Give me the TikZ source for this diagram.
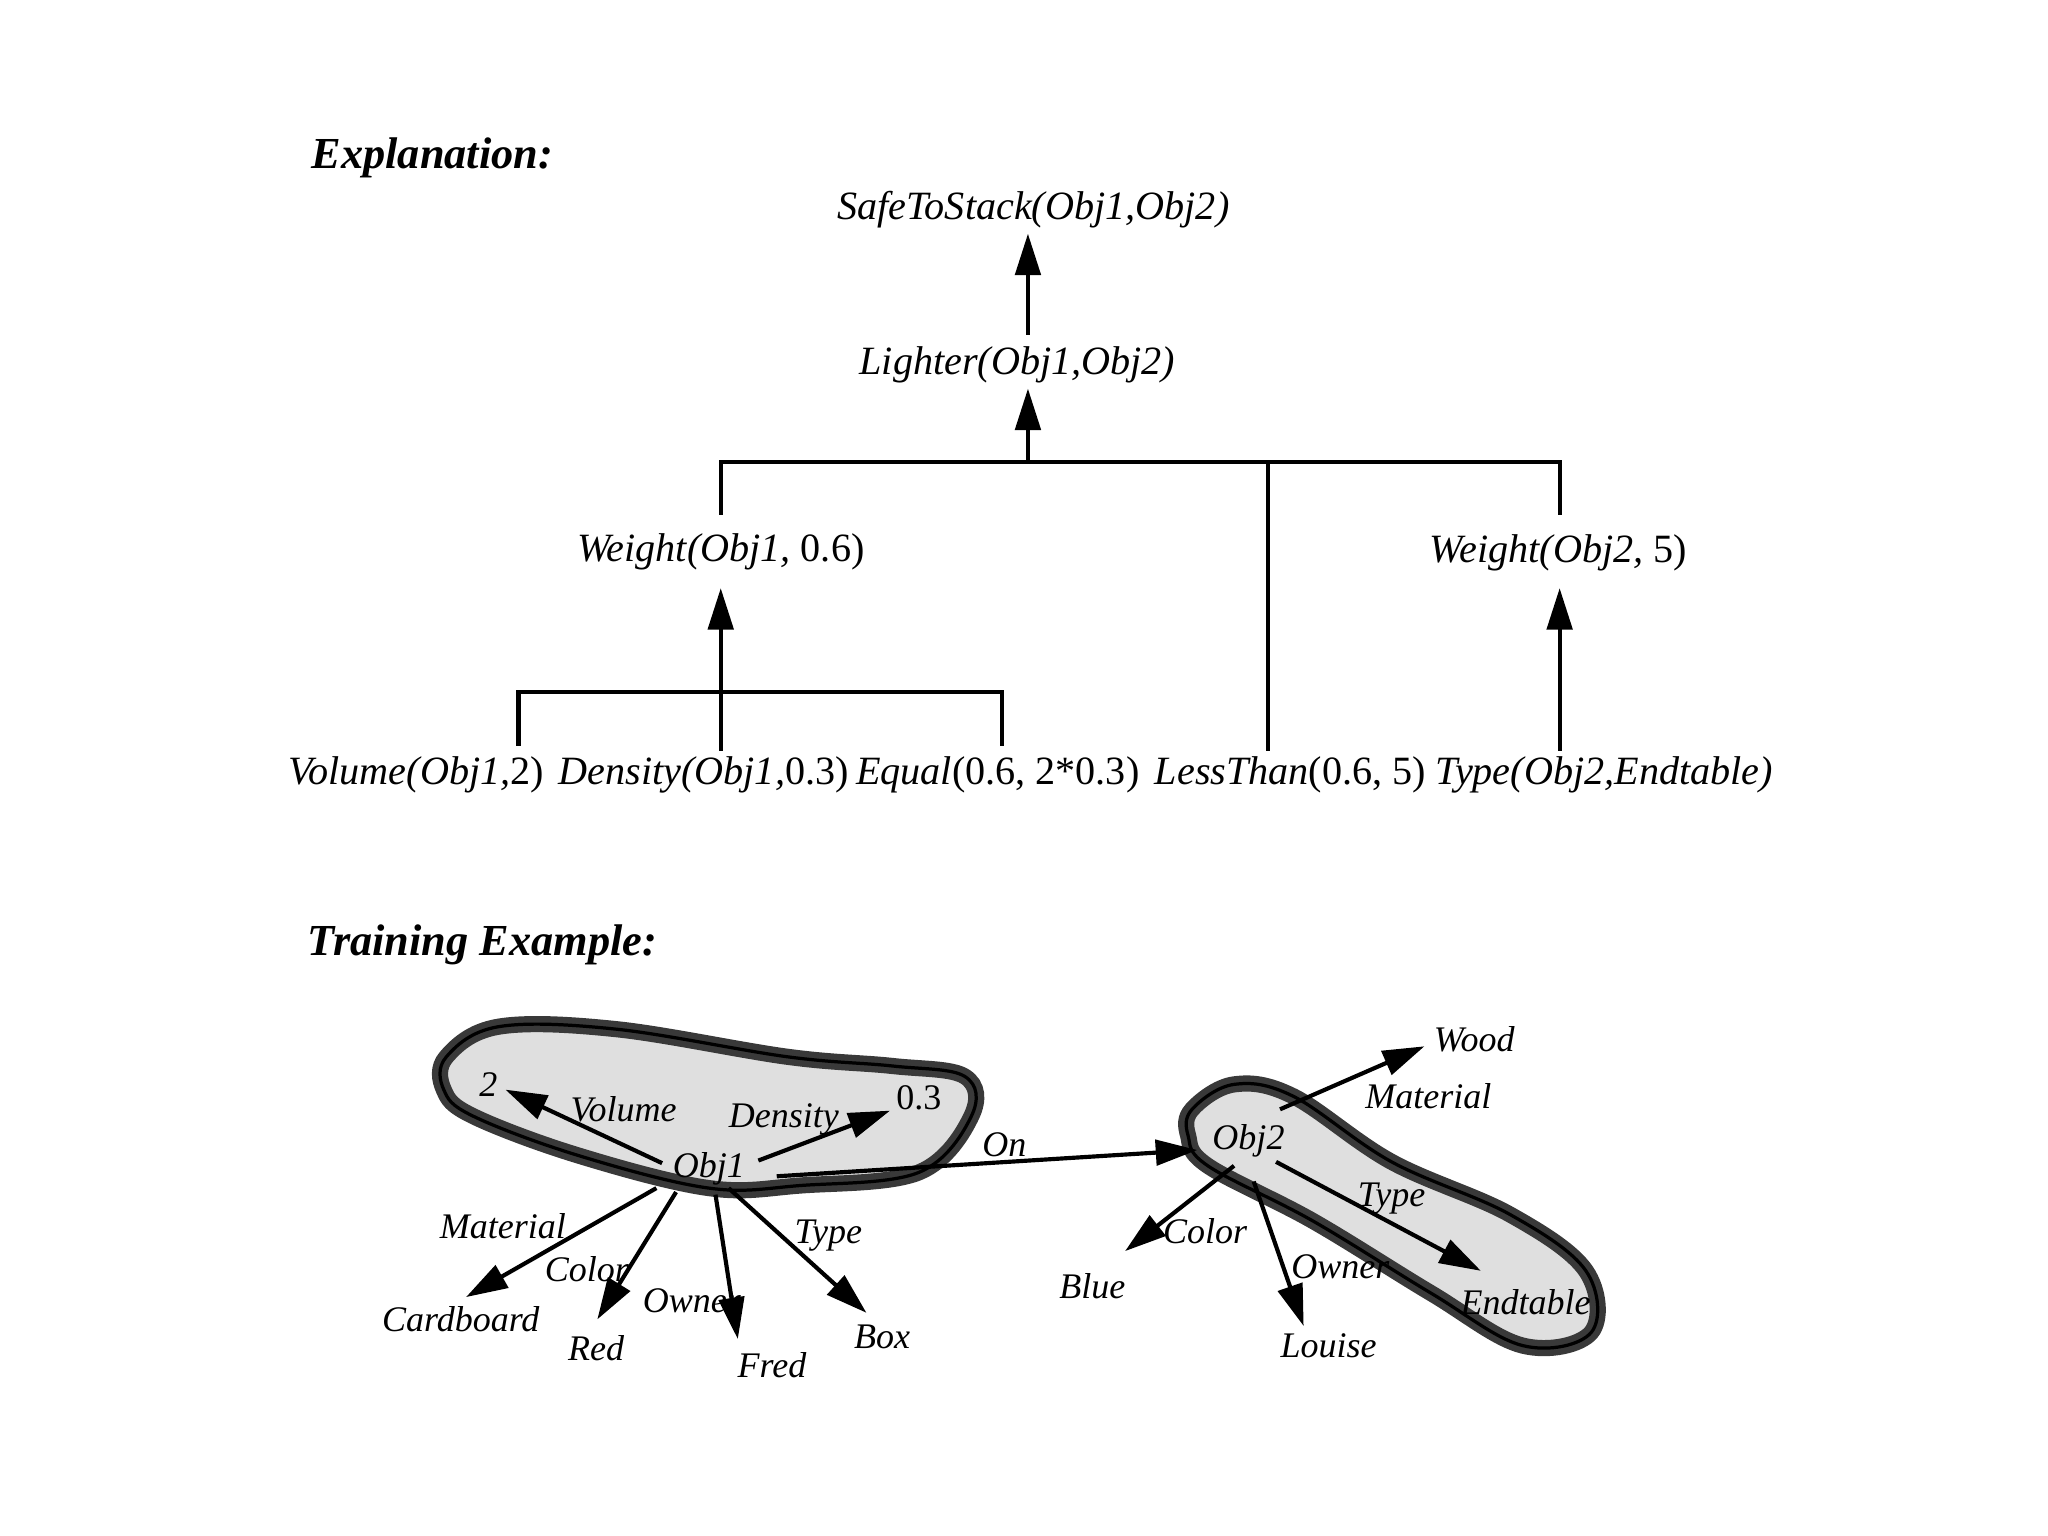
\documentclass[tikz,border=0pt]{standalone}
\usepackage{fontspec}
\setmainfont{Liberation Serif}
\usetikzlibrary{arrows.meta}
\begin{document}
\begin{tikzpicture}[x=0.01cm,y=-0.01cm,
  lbl/.style={font=\itshape\fontsize{7.8}{9}\selectfont,inner sep=1pt},
  tl/.style={font=\itshape\fontsize{8.7}{10}\selectfont,inner sep=1pt},
  ttl/.style={font=\bfseries\itshape\fontsize{9.6}{11}\selectfont,anchor=west},
  arr/.style={-{Triangle[length=9pt,width=5.5pt]},line width=0.9pt},
  ln/.style={line width=0.9pt},
  blob/.style={fill=gray!25,draw=gray!45!black,line width=3.5pt},
  blobl/.style={draw=black,line width=0.7pt}]
\useasboundingbox (0,0) rectangle (1560,1170);
% Explanation
\node[ttl] (t1) at (225,120) {Explanation:};
\node[tl] (safe) at (787,160) {SafeToStack(Obj1,Obj2)};
\node[tl] (light) at (775,278) {Lighter(Obj1,Obj2)};
\node[tl] (w1) at (549,420) {Weight(Obj1, \upshape 0.6)};
\node[tl] (w2) at (1187,421) {Weight(Obj2, \upshape 5)};
\node[tl] (vol) at (317,590) {Volume(Obj1,\upshape 2)};
\node[tl] (den) at (536,590) {Density(Obj1,\upshape 0.3)};
\node[tl] (eq) at (760,590) {Equal\upshape(0.6, 2*0.3)};
\node[tl] (lt) at (983,590) {LessThan\upshape(0.6, 5)};
\node[tl] (ty) at (1222,590) {Type(Obj2,Endtable)};
\coordinate (b1) at (783,352);
\draw[arr] (783,255) -- (783,178);
\draw[arr] (b1) -- (783,296);
\draw[ln] (549,392) -- (549,352) -- (1188,352) -- (1188,392);
\draw[ln] (966,352) -- (966,572);
\draw[arr] (549,572) -- (549,448);
\draw[ln] (395,568) -- (395,527) -- (763,527) -- (763,568);
\draw[arr] (1188,572) -- (1188,448);
% Training
\node[ttl] (t2) at (222,720) {Training Example:};
\def\bl{(340,805) (380,782) (470,784) (600,805) (680,812) (735,820) (740,850) (700,893) (610,903) (540,905) (440,880) (360,850) (338,830)}
\def\br{(908,845) (940,826) (985,835) (1060,885) (1150,925) (1208,968) (1212,1015) (1160,1025) (1090,985) (1000,930) (920,888) (905,865)}
\draw[blob] plot[smooth cycle,tension=0.6] coordinates {\bl};
\draw[blobl] plot[smooth cycle,tension=0.6] coordinates {\bl};
\draw[blob] plot[smooth cycle,tension=0.6] coordinates {\br};
\draw[blobl] plot[smooth cycle,tension=0.6] coordinates {\br};
\node[lbl] (two) at (372,826) {2};
\node[lbl] at (475,845) {Volume};
\node[lbl] at (597,853) {Density};
\node[lbl] (p3) at (700,836) {\upshape 0.3};
\node[lbl] (o1) at (540,890) {Obj1};
\node[lbl] at (765,872) {On};
\node[lbl] (o2) at (951,869) {Obj2};
\node[lbl] (wood) at (1123,792) {Wood};
\node[lbl] at (1088,835) {Material};
\node[lbl] at (1060,913) {Type};
\node[lbl] (end) at (1162,992) {Endtable};
\node[lbl] at (918,938) {Color};
\node[lbl] (blue) at (832,980) {Blue};
\node[lbl] at (1021,965) {Owner};
\node[lbl] (lou) at (1012,1025) {Louise};
\node[lbl] at (383,934) {Material};
\node[lbl] (card) at (351,1005) {Cardboard};
\node[lbl] at (447,967) {Color};
\node[lbl] (red) at (454,1027) {Red};
\node[lbl] at (527,991) {Owner};
\node[lbl] (fred) at (588,1040) {Fred};
\node[lbl] at (631,941) {Type};
\node[lbl] (box) at (672,1018) {Box};
\draw[arr] (o1.west) ++(-4,-4) -- (385,830);
\draw[arr] (o1.east) ++(6,-6) -- (678,846);
\draw[arr] (o1.east) ++(20,6) -- (912,876);
\draw[arr] (500,905) -- (355,988);
\draw[arr] (515,908) -- (455,1005);
\draw[arr] (545,910) -- (562,1020);
\draw[arr] (555,905) -- (660,1000);
\draw[arr] (975,845) -- (1085,797);
\draw[arr] (940,888) -- (857,953);
\draw[arr] (955,900) -- (993,1010);
\draw[arr] (972,885) -- (1128,968);
\end{tikzpicture}
\end{document}
